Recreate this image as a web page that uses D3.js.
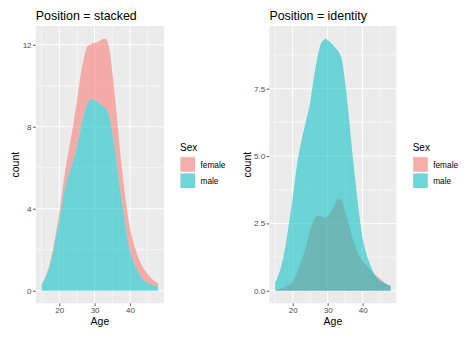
<!DOCTYPE html>
<html>
<head>
<meta charset="utf-8">
<script src="https://cdn.jsdelivr.net/npm/d3@7"></script>
<style>
  html, body { margin: 0; padding: 0; background: #ffffff; }
  svg { display: block; font-family: "Liberation Sans", Arial, sans-serif; }
</style>
</head>
<body>
<svg id="chart" width="474" height="338"></svg>
<script>
// ---- data ----
const ages = [15,16,17,18,19,20,21,22,23,24,25,26,27,28,29,29.5,30,31,32,33,34,35,36,37,38,39,40,41,42,43,44,45,46,47,48];
const maleCount = [0.30,0.60,1.05,1.70,2.55,3.45,4.45,5.25,5.85,6.40,7.00,7.85,8.60,9.15,9.32,9.36,9.30,9.20,9.05,8.90,8.60,7.75,6.55,5.20,4.00,2.85,1.95,1.40,1.02,0.70,0.50,0.37,0.30,0.24,0.19];
const femaleCount = [0.02,0.05,0.10,0.15,0.22,0.35,0.60,0.95,1.30,1.75,2.25,2.60,2.77,2.78,2.70,2.72,2.78,2.95,3.20,3.40,3.35,2.95,2.50,2.00,1.60,1.30,1.10,0.95,0.80,0.65,0.55,0.45,0.32,0.22,0.17];
const sexLevels = ["female", "male"];
const panelTitles = ["Position = stacked", "Position = identity"];
const xTickValues = [20, 30, 40];
const yTicksStacked = [0, 4, 8, 12];
const yTicksIdentity = [0, 2.5, 5, 7.5];
const xLabel = "Age";
const yLabel = "count";
const legendTitle = "Sex";

// ---- styling ----
const fillColor = { female: "#F8766D", male: "#00BFC4" };
const fillAlpha = 0.55;
const svg = d3.select("#chart");

const rows = ages.map((a, i) => ({ age: a, female: femaleCount[i], male: maleCount[i] }));

function drawPanel(cfg) {
  const g = svg.append("g");
  const xExt = d3.extent(ages);
  const xPad = (xExt[1] - xExt[0]) * 0.05;
  const x = d3.scaleLinear().domain([xExt[0] - xPad, xExt[1] + xPad]).range([cfg.left, cfg.right]);
  const yMax = cfg.stacked ? d3.max(rows, d => d.male + d.female) : d3.max(rows, d => Math.max(d.male, d.female));
  const yPad = yMax * 0.05;
  const y = d3.scaleLinear().domain([-yPad, yMax + yPad]).range([cfg.bottom, cfg.top]);

  // panel background
  g.append("rect").attr("x", cfg.left).attr("y", cfg.top)
    .attr("width", cfg.right - cfg.left).attr("height", cfg.bottom - cfg.top)
    .attr("fill", "#EBEBEB");

  // minor grid
  const xMinor = xTickValues.map(v => v - 5).concat([xTickValues[xTickValues.length - 1] + 5]);
  const yStep = cfg.yTicks[1] - cfg.yTicks[0];
  const yMinor = cfg.yTicks.map(v => v + yStep / 2).filter(v => v < yMax + yPad);
  g.selectAll(".xminor").data(xMinor.filter(v => x(v) > cfg.left && x(v) < cfg.right)).join("line")
    .attr("x1", d => x(d)).attr("x2", d => x(d)).attr("y1", cfg.top).attr("y2", cfg.bottom)
    .attr("stroke", "#ffffff").attr("stroke-width", 0.5);
  g.selectAll(".yminor").data(yMinor).join("line")
    .attr("y1", d => y(d)).attr("y2", d => y(d)).attr("x1", cfg.left).attr("x2", cfg.right)
    .attr("stroke", "#ffffff").attr("stroke-width", 0.5);
  // major grid
  g.selectAll(".xmajor").data(xTickValues).join("line")
    .attr("x1", d => x(d)).attr("x2", d => x(d)).attr("y1", cfg.top).attr("y2", cfg.bottom)
    .attr("stroke", "#ffffff").attr("stroke-width", 1);
  g.selectAll(".ymajor").data(cfg.yTicks).join("line")
    .attr("y1", d => y(d)).attr("y2", d => y(d)).attr("x1", cfg.left).attr("x2", cfg.right)
    .attr("stroke", "#ffffff").attr("stroke-width", 1);

  // areas
  const curve = d3.curveMonotoneX;
  if (cfg.stacked) {
    const maleArea = d3.area().curve(curve).x(d => x(d.age)).y0(() => y(0)).y1(d => y(d.male));
    const femArea = d3.area().curve(curve).x(d => x(d.age)).y0(d => y(d.male)).y1(d => y(d.male + d.female));
    g.append("path").datum(rows).attr("d", femArea).attr("fill", fillColor.female).attr("fill-opacity", fillAlpha);
    g.append("path").datum(rows).attr("d", maleArea).attr("fill", fillColor.male).attr("fill-opacity", fillAlpha);
  } else {
    sexLevels.forEach(s => {
      const ar = d3.area().curve(curve).x(d => x(d.age)).y0(() => y(0)).y1(d => y(d[s]));
      g.append("path").datum(rows).attr("d", ar).attr("fill", fillColor[s]).attr("fill-opacity", fillAlpha);
    });
  }

  // axes
  const xAxis = d3.axisBottom(x).tickValues(xTickValues).tickSize(2.75).tickPadding(1.5).tickFormat(d3.format("d"));
  const yAxis = d3.axisLeft(y).tickValues(cfg.yTicks).tickSize(2.75).tickPadding(1.5).tickFormat(cfg.yFormat);
  const gx = g.append("g").attr("transform", `translate(0,${cfg.bottom})`).call(xAxis);
  const gy = g.append("g").attr("transform", `translate(${cfg.left},0)`).call(yAxis);
  [gx, gy].forEach(ax => {
    ax.select(".domain").remove();
    ax.selectAll(".tick line").attr("stroke", "#333333").attr("stroke-width", 0.8);
    ax.selectAll(".tick text").attr("fill", "#4D4D4D").style("font-size", "8px").style("font-family", "Liberation Sans, Arial, sans-serif");
  });

  // titles
  g.append("text").attr("x", cfg.left).attr("y", 20).text(cfg.title)
    .attr("fill", "#000").style("font-size", "12.4px");
  g.append("text").attr("x", (cfg.left + cfg.right) / 2).attr("y", 325).attr("text-anchor", "middle")
    .text(xLabel).attr("fill", "#000").style("font-size", "10.5px");
  g.append("text").attr("transform", `translate(${cfg.yLabelX},${(cfg.top + cfg.bottom) / 2}) rotate(-90)`)
    .attr("text-anchor", "middle").text(yLabel).attr("fill", "#000").style("font-size", "10.5px");

  // legend
  const lg = g.append("g").attr("transform", `translate(${cfg.legendX},0)`);
  lg.append("text").attr("x", 0).attr("y", 150.5).text(legendTitle).attr("fill", "#000").style("font-size", "10px");
  sexLevels.forEach((s, i) => {
    const ky = 156.7 + i * 16.3;
    lg.append("rect").attr("x", 0).attr("y", ky).attr("width", 15.5).attr("height", 15.5).attr("fill", "#F2F2F2");
    lg.append("rect").attr("x", 0.5).attr("y", ky + 0.5).attr("width", 14.5).attr("height", 14.5)
      .attr("fill", fillColor[s]).attr("fill-opacity", fillAlpha);
    lg.append("text").attr("x", 20.5).attr("y", ky + 8).attr("dy", "0.35em").text(s)
      .attr("fill", "#000").style("font-size", "8.3px");
  });
}

drawPanel({ left: 35.8, right: 164, top: 26, bottom: 303.3, stacked: true,
  yTicks: yTicksStacked, yFormat: d3.format("d"), title: panelTitles[0], yLabelX: 18.5, legendX: 180 });
drawPanel({ left: 269.4, right: 396.4, top: 26, bottom: 303.3, stacked: false,
  yTicks: yTicksIdentity, yFormat: d3.format(".1f"), title: panelTitles[1], yLabelX: 250.5, legendX: 412.7 });
</script>
</body>
</html>
